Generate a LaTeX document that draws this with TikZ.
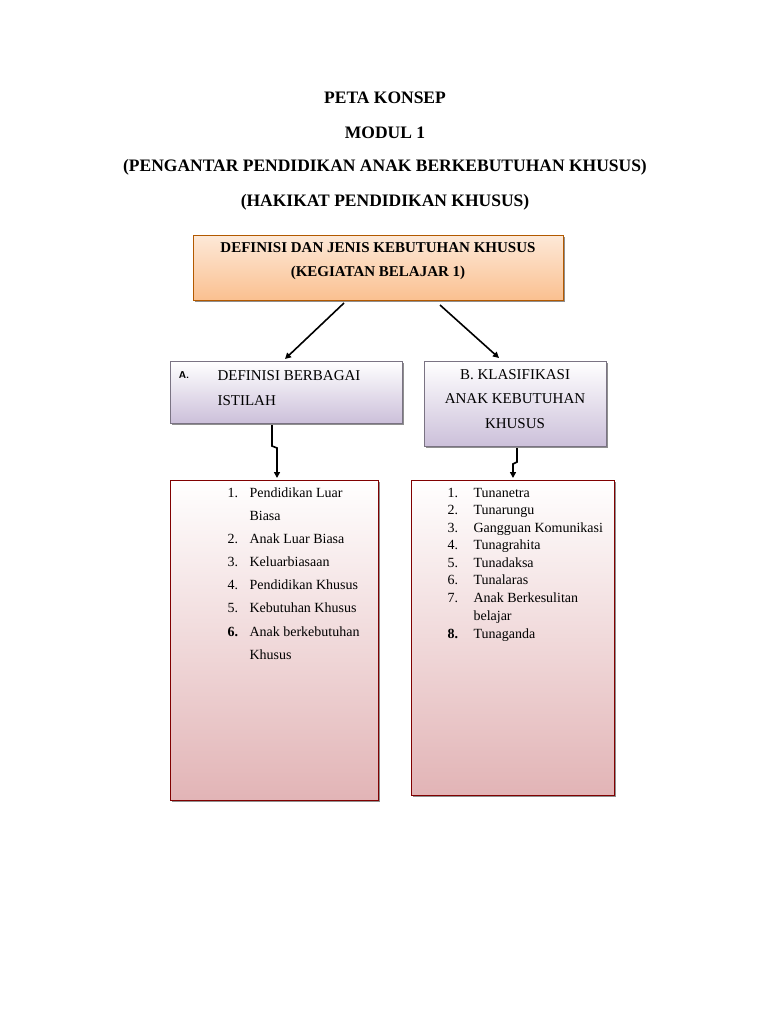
\documentclass[tikz,border=0pt]{standalone}
\usepackage{fontspec}
\setmainfont{Liberation Serif}
\usetikzlibrary{arrows.meta,shadows}
\definecolor{orB}{RGB}{250,192,144}
\definecolor{puB}{RGB}{204,192,218}
\definecolor{piB}{RGB}{226,180,182}
\begin{document}
\begin{tikzpicture}[x=1pt,y=-1pt,
  shad/.style={drop shadow={shadow xshift=2pt,shadow yshift=-2pt,fill=black!55,opacity=.8}},
  orangebox/.style={shad,draw=orange!70!black,top color=orB!35!white,bottom color=orB},
  purplebox/.style={shad,draw=puB!60!black,top color=white,bottom color=puB},
  pinkbox/.style={shad,draw=red!50!black,line width=0.6pt,top color=white,bottom color=piB},
  arr/.style={line width=1.6pt,-{Triangle[length=6pt,width=6pt]}},
  tt/.style={font=\fontsize{17.5}{20}\selectfont\bfseries},
  bt/.style={font=\fontsize{15}{17}\selectfont},
  li/.style={anchor=base west,font=\fontsize{14}{16}\selectfont},
  ri/.style={anchor=base west,font=\fontsize{14}{16}\selectfont}]
\useasboundingbox (0,0) rectangle (768,1024);
\fill[white] (0,0) rectangle (768,1024);
\node[tt] (t1) at (385,98) {PETA KONSEP};
\node[tt] (t2) at (385,133) {MODUL 1};
\node[tt] (t3) at (385,167) {(PENGANTAR PENDIDIKAN ANAK BERKEBUTUHAN KHUSUS)};
\node[tt] (t4) at (385,202) {(HAKIKAT PENDIDIKAN KHUSUS)};
\path[orangebox] (193,235) rectangle (563,300);
\node (top) at (378,267.5) [minimum width=370pt,minimum height=65pt] {};
\node[font=\fontsize{15}{17}\selectfont\bfseries] at (378,248) {DEFINISI DAN JENIS KEBUTUHAN KHUSUS};
\node[font=\fontsize{15}{17}\selectfont\bfseries] at (378,273) {(KEGIATAN BELAJAR 1)};
\path[purplebox] (170,361) rectangle (402,423);
\node (A) at (286,392) [minimum width=232pt,minimum height=62pt] {};
\node[font=\sffamily\fontsize{10}{12}\selectfont\bfseries] at (184,375) {A.};
\node[bt,anchor=base west] at (214,380) {DEFINISI BERBAGAI};
\node[bt,anchor=base west] at (214,405) {ISTILAH};
\path[purplebox] (424,361) rectangle (606,446);
\node (B) at (515,403.5) [minimum width=182pt,minimum height=85pt] {};
\node[bt] at (515,375) {B. KLASIFIKASI};
\node[bt] at (515,399) {ANAK KEBUTUHAN};
\node[bt] at (515,424) {KHUSUS};
\path[pinkbox] (170,480) rectangle (378,800);
\node (L) at (274,640) [minimum width=208pt,minimum height=320pt] {};
\path[pinkbox] (411,480) rectangle (614,795);
\node (R) at (512.5,637.5) [minimum width=203pt,minimum height=315pt] {};
\coordinate (a1) at (344,303); \coordinate (a2) at (285,359);
\coordinate (b1) at (440,305); \coordinate (b2) at (499,358);
\draw[arr] (a1) -- (a2);
\draw[arr] (b1) -- (b2);
\draw[arr] (272,425) -- (272,446) -- (277,448) -- (277,478);
\draw[arr] (517,448) -- (517,462) -- (513,464) -- (513,478);
\foreach \n/\t/\y in {1./Pendidikan Luar/497, /Biasa/520, 2./Anak Luar Biasa/543, 3./Keluarbiasaan/566, 4./Pendidikan Khusus/589, 5./Kebutuhan Khusus/612, \textbf{6.}/Anak berkebutuhan/636, /Khusus/659}{
  \node[li] at (224,\y) {\n};
  \node[li] at (246,\y) {\t};
}
\foreach \n/\t/\y in {1./Tunanetra/497, 2./Tunarungu/514, 3./Gangguan Komunikasi/532, 4./Tunagrahita/549, 5./Tunadaksa/567, 6./Tunalaras/584, 7./Anak Berkesulitan/602, /belajar/620, \textbf{8.}/Tunaganda/638}{
  \node[ri] at (444,\y) {\n};
  \node[ri] at (470,\y) {\t};
}
\end{tikzpicture}
\end{document}
